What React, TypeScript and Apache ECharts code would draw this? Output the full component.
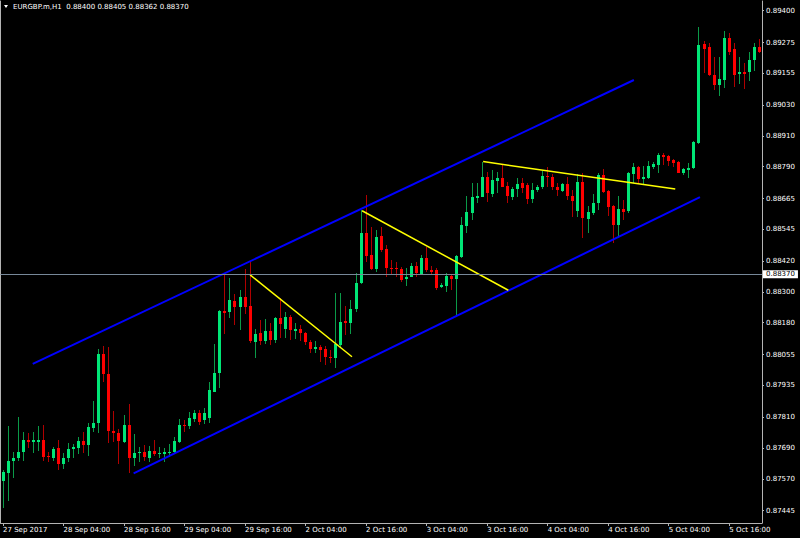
import React, { useEffect, useRef } from "react";
import * as echarts from "echarts";

const FONT = "DejaVu Sans";
const symbolTitle = "EURGBP.m,H1";
const headerQuote = ["0.88400", "0.88405", "0.88362", "0.88370"];
const bidPrice = 0.8837;

const priceTicks = [0.894, 0.89275, 0.89155, 0.8903, 0.8891, 0.8879, 0.88665, 0.88545, 0.8842, 0.883, 0.8818, 0.88055, 0.87935, 0.8781, 0.8769, 0.8757, 0.87445];
const timeTickBars = [0, 12, 24, 36, 48, 60, 72, 84, 96, 108, 120, 132, 144];
const timeTickLabels = ["27 Sep 2017", "28 Sep 04:00", "28 Sep 16:00", "29 Sep 04:00", "29 Sep 16:00", "2 Oct 04:00", "2 Oct 16:00", "3 Oct 04:00", "3 Oct 16:00", "4 Oct 04:00", "4 Oct 16:00", "5 Oct 04:00", "5 Oct 16:00"];

const opens = [
  0.87562, 0.87591, 0.8764, 0.87652, 0.87676, 0.87722, 0.87713, 0.87715, 0.8772, 0.8766,
  0.87652, 0.8769, 0.87627, 0.87651, 0.87685, 0.87691, 0.87719, 0.87701, 0.8777, 0.87789,
  0.88058, 0.8798, 0.87758, 0.87749, 0.87715, 0.8778, 0.87652, 0.87671, 0.87675, 0.87652,
  0.87679, 0.87668, 0.87668, 0.87671, 0.87675, 0.87715, 0.8778, 0.87777, 0.87802, 0.87826,
  0.878, 0.87808, 0.8791, 0.87982, 0.88227, 0.88223, 0.88266, 0.8824, 0.88279, 0.88245,
  0.88106, 0.88139, 0.8811, 0.88149, 0.88113, 0.88197, 0.88154, 0.88204, 0.88149, 0.88156,
  0.88139, 0.88106, 0.88077, 0.88086, 0.88076, 0.88047, 0.88041, 0.88093, 0.88187, 0.88178,
  0.88234, 0.88334, 0.8853, 0.88445, 0.88389, 0.88519, 0.88467, 0.88395, 0.88395, 0.88389,
  0.8835, 0.8836, 0.88402, 0.88371, 0.88432, 0.88388, 0.88386, 0.88319, 0.88324, 0.88363,
  0.8835, 0.88438, 0.88558, 0.88608, 0.88668, 0.88673, 0.88751, 0.88683, 0.88735, 0.88745,
  0.88715, 0.88673, 0.88702, 0.88725, 0.88719, 0.88663, 0.88699, 0.8871, 0.88754, 0.88751,
  0.88712, 0.88696, 0.88723, 0.88676, 0.88618, 0.88732, 0.88585, 0.8861, 0.88647, 0.88758,
  0.88695, 0.88637, 0.88562, 0.88625, 0.88617, 0.88762, 0.8879, 0.88742, 0.88747, 0.8879,
  0.88797, 0.88836, 0.88833, 0.88816, 0.8881, 0.88767, 0.88777, 0.88784, 0.88882, 0.8927,
  0.89257, 0.89149, 0.8911, 0.89129, 0.89292, 0.89249, 0.89153, 0.89162, 0.8916, 0.89207,
  0.89259,
];
const highs = [
  0.87604, 0.87776, 0.87676, 0.87813, 0.87754, 0.87748, 0.87753, 0.87776, 0.8778, 0.87676,
  0.87695, 0.8772, 0.8767, 0.87709, 0.87707, 0.87734, 0.87754, 0.87787, 0.87874, 0.88077,
  0.8809, 0.88086, 0.87836, 0.87766, 0.87819, 0.87862, 0.87745, 0.87695, 0.87701, 0.87699,
  0.87722, 0.87693, 0.87689, 0.87705, 0.87734, 0.87802, 0.878, 0.87832, 0.87839, 0.87839,
  0.87847, 0.8795, 0.88096, 0.8823, 0.88373, 0.88354, 0.88292, 0.88308, 0.8839, 0.88421,
  0.88156, 0.88191, 0.88195, 0.88178, 0.88204, 0.88276, 0.88223, 0.8821, 0.88178, 0.88171,
  0.88145, 0.88113, 0.88109, 0.88093, 0.88089, 0.88074, 0.88295, 0.88297, 0.88245, 0.88269,
  0.88373, 0.88621, 0.8868, 0.88556, 0.88543, 0.88556, 0.88484, 0.88425, 0.88419, 0.88399,
  0.88393, 0.88412, 0.88419, 0.88445, 0.88477, 0.88402, 0.88393, 0.88334, 0.88373, 0.88371,
  0.88445, 0.88594, 0.88674, 0.88728, 0.88728, 0.8881, 0.88771, 0.88777, 0.88771, 0.88797,
  0.88732, 0.88712, 0.88745, 0.88745, 0.88725, 0.88725, 0.88719, 0.88775, 0.8879, 0.88762,
  0.88725, 0.88728, 0.88751, 0.88699, 0.88762, 0.88764, 0.88637, 0.88683, 0.88764, 0.8878,
  0.88699, 0.8864, 0.88676, 0.8866, 0.88771, 0.88806, 0.88793, 0.88793, 0.88814, 0.8881,
  0.88843, 0.88843, 0.88836, 0.88819, 0.88814, 0.88784, 0.88804, 0.88891, 0.89338, 0.89283,
  0.89273, 0.89218, 0.8922, 0.89322, 0.89314, 0.89273, 0.89218, 0.89197, 0.89237, 0.89273,
  0.89288,
];
const lows = [
  0.87456, 0.87484, 0.87572, 0.8764, 0.8764, 0.87689, 0.87672, 0.8768, 0.8764, 0.87637,
  0.87641, 0.87604, 0.87607, 0.87634, 0.8765, 0.87667, 0.8767, 0.8766, 0.87752, 0.8775,
  0.8795, 0.87709, 0.87715, 0.87627, 0.87709, 0.87591, 0.8762, 0.87634, 0.87641, 0.87637,
  0.8766, 0.87652, 0.87634, 0.87656, 0.8767, 0.87709, 0.87754, 0.87763, 0.87793, 0.8778,
  0.87784, 0.87788, 0.87909, 0.87925, 0.88136, 0.88199, 0.88173, 0.88152, 0.88214, 0.88099,
  0.88041, 0.88093, 0.88097, 0.88093, 0.881, 0.88119, 0.88119, 0.88113, 0.88117, 0.88109,
  0.88093, 0.88061, 0.88061, 0.88028, 0.88015, 0.88021, 0.88002, 0.8808, 0.88132, 0.88136,
  0.88223, 0.88332, 0.88419, 0.88386, 0.8838, 0.88458, 0.8836, 0.88367, 0.8836, 0.88341,
  0.88324, 0.88358, 0.8836, 0.88367, 0.8838, 0.88367, 0.88308, 0.88315, 0.88301, 0.88308,
  0.88204, 0.88433, 0.88531, 0.88582, 0.88647, 0.88672, 0.88653, 0.88673, 0.88689, 0.8871,
  0.88647, 0.8866, 0.88673, 0.88686, 0.88644, 0.88649, 0.88692, 0.88702, 0.8871, 0.88699,
  0.88676, 0.88692, 0.8866, 0.88595, 0.88595, 0.8851, 0.8853, 0.88601, 0.88621, 0.88686,
  0.88597, 0.88493, 0.8851, 0.88582, 0.8861, 0.88725, 0.88725, 0.88719, 0.88741, 0.8878,
  0.88764, 0.88797, 0.88793, 0.8879, 0.88764, 0.88758, 0.88745, 0.8878, 0.88879, 0.89158,
  0.89145, 0.8909, 0.89067, 0.89097, 0.89227, 0.89103, 0.89114, 0.89094, 0.89127, 0.89164,
  0.89234,
];
const closes = [
  0.87598, 0.8764, 0.87652, 0.87675, 0.8772, 0.87713, 0.8772, 0.8772, 0.87656, 0.87654,
  0.87686, 0.87627, 0.87652, 0.87686, 0.87693, 0.87718, 0.87701, 0.87772, 0.87788, 0.88058,
  0.87978, 0.87757, 0.8775, 0.87718, 0.8778, 0.87652, 0.87672, 0.87675, 0.87654, 0.87679,
  0.87666, 0.87672, 0.87673, 0.87675, 0.87718, 0.8778, 0.87776, 0.87806, 0.87828, 0.87793,
  0.87827, 0.87917, 0.87985, 0.88227, 0.88219, 0.88269, 0.8824, 0.88279, 0.88243, 0.88109,
  0.88136, 0.8811, 0.88149, 0.88113, 0.88197, 0.88175, 0.88204, 0.88152, 0.88156, 0.88139,
  0.88104, 0.88076, 0.88086, 0.88074, 0.88045, 0.88041, 0.88097, 0.88184, 0.88178, 0.88234,
  0.88335, 0.8853, 0.88441, 0.88389, 0.88516, 0.88464, 0.88393, 0.88389, 0.88389, 0.88347,
  0.8836, 0.88402, 0.88373, 0.88432, 0.88386, 0.8838, 0.88315, 0.88328, 0.88363, 0.8835,
  0.88441, 0.88562, 0.88614, 0.88673, 0.88676, 0.88751, 0.88686, 0.88738, 0.88745, 0.88712,
  0.88676, 0.88702, 0.88723, 0.88706, 0.88663, 0.88699, 0.88712, 0.88754, 0.88749, 0.8871,
  0.88699, 0.88723, 0.88676, 0.88656, 0.88732, 0.88588, 0.88614, 0.88649, 0.88758, 0.88692,
  0.88634, 0.88562, 0.88624, 0.88614, 0.88767, 0.8879, 0.88741, 0.88751, 0.88793, 0.888,
  0.88836, 0.88827, 0.88812, 0.88806, 0.88767, 0.88781, 0.88786, 0.88885, 0.89266, 0.89249,
  0.89149, 0.8911, 0.89132, 0.89292, 0.8924, 0.89149, 0.89162, 0.89153, 0.89207, 0.89258,
  0.8924,
];

// trend lines: [bar index, price]
const channelUpper = [[5.9, 0.88019], [125.1, 0.89129]];
const channelLower = [[25.9, 0.87591], [138.2, 0.88671]];
const yellowLine1 = [[49.0, 0.88367], [69.2, 0.88047]];
const yellowLine2 = [[71.2, 0.88618], [100.2, 0.88307]];
const yellowLine3 = [[95.2, 0.8881], [133.3, 0.88703]];

const Y_MIN = 0.87397;
const Y_MAX = 0.89438;
const X_MIN = -0.5;
const X_MAX = opens.length - 0.5;

const AXIS = "#b4b4b4";
const BODY_UP = "#00e676";
const BODY_DOWN = "#ff0000";
const WICK_UP = "#0a9a48";
const WICK_DOWN = "#b00000";

export default function App() {
  const ref = useRef<HTMLDivElement>(null);
  useEffect(() => {
    document.body.style.margin = "0";
    document.body.style.background = "#000";
    const chart = echarts.init(ref.current!, undefined, { renderer: "svg" });
    const candleData = opens.map((o, i) => [i, o, closes[i], lows[i], highs[i]]);

    const trend = (data: number[][], color: string, width: number, extra: any = {}) => ({
      type: "line",
      data,
      xAxisIndex: 0,
      yAxisIndex: 0,
      symbol: "none",
      showSymbol: false,
      silent: true,
      z: 4,
      lineStyle: { color, width },
      ...extra,
    });

    const bidMarkLine = {
      silent: true,
      precision: 5,
      symbol: ["none", "none"],
      data: [{ yAxis: bidPrice }],
      lineStyle: { color: "#778899", width: 1, type: "solid" },
      label: {
        show: true,
        position: "end",
        distance: 1,
        formatter: () => bidPrice.toFixed(5),
        color: "#000000",
        backgroundColor: "#ffffff",
        padding: [1, 3, 0, 3],
        fontSize: 7,
        fontFamily: FONT,
      },
    };

    const option: any = {
      animation: false,
      backgroundColor: "#000000",
      title: {
        text: `${symbolTitle}\u00a0\u00a0${headerQuote.join(" ")}`,
        left: 13,
        top: 3,
        padding: 0,
        textStyle: { color: "#ffffff", fontSize: 7, fontFamily: FONT, fontWeight: "normal" },
      },
      graphic: [
        {
          type: "polygon",
          shape: { points: [[4, 5], [8, 5], [6, 8]] },
          style: { fill: "#ffffff" },
        },
      ],
      grid: { left: 0, right: 38, top: 1, bottom: 15 },
      xAxis: {
        type: "value",
        min: X_MIN,
        max: X_MAX,
        axisLine: { show: true, onZero: false, lineStyle: { color: AXIS } },
        axisTick: { show: true, length: 3, customValues: timeTickBars, lineStyle: { color: AXIS } },
        axisLabel: {
          customValues: timeTickBars,
          formatter: (v: number) => {
            const k = timeTickBars.indexOf(Math.round(v));
            return k >= 0 ? timeTickLabels[k] : "";
          },
          align: "left",
          margin: 3,
          color: "#ffffff",
          fontSize: 7,
          fontFamily: FONT,
        },
        splitLine: { show: false },
      },
      yAxis: [
        {
          type: "value",
          position: "right",
          min: Y_MIN,
          max: Y_MAX,
          axisLine: { show: true, onZero: false, lineStyle: { color: AXIS } },
          axisTick: { show: true, length: 2, customValues: priceTicks, lineStyle: { color: AXIS } },
          axisLabel: {
            customValues: priceTicks,
            formatter: (v: number) => v.toFixed(5),
            margin: 4,
            color: "#ffffff",
            fontSize: 7,
            fontFamily: FONT,
          },
          splitLine: { show: false },
        },
        {
          type: "value",
          position: "left",
          min: Y_MIN,
          max: Y_MAX,
          axisLine: { show: true, onZero: false, lineStyle: { color: AXIS } },
          axisTick: { show: false },
          axisLabel: { show: false },
          splitLine: { show: false },
        },
      ],
      series: [
        {
          type: "custom",
          xAxisIndex: 0,
          yAxisIndex: 0,
          silent: true,
          z: 2,
          encode: { x: 0, y: [1, 2, 3, 4] },
          data: candleData,
          renderItem: (params: any, api: any) => {
            const x = api.value(0);
            const o = api.value(1);
            const c = api.value(2);
            const l = api.value(3);
            const h = api.value(4);
            const pO = api.coord([x, o]);
            const pC = api.coord([x, c]);
            const pL = api.coord([x, l]);
            const pH = api.coord([x, h]);
            const up = c >= o;
            const cx = Math.floor(pO[0]) + 0.5;
            const top = Math.round(Math.min(pO[1], pC[1]));
            const bot = Math.round(Math.max(pO[1], pC[1]));
            return {
              type: "group",
              children: [
                {
                  type: "line",
                  shape: { x1: cx, y1: Math.round(pH[1]), x2: cx, y2: Math.round(pL[1]) },
                  style: { stroke: up ? WICK_UP : WICK_DOWN, lineWidth: 1 },
                },
                {
                  type: "rect",
                  shape: { x: cx - 1.5, y: top, width: 3, height: Math.max(1, bot - top) },
                  style: { fill: up ? BODY_UP : BODY_DOWN },
                },
              ],
            };
          },
        },
        trend(channelUpper, "#0000ff", 2, { markLine: bidMarkLine }),
        trend(channelLower, "#0000ff", 2),
        trend(yellowLine1, "#ffff00", 1.5),
        trend(yellowLine2, "#ffff00", 1.5),
        trend(yellowLine3, "#ffff00", 1.5),
      ],
    };
    chart.setOption(option);
    return () => chart.dispose();
  }, []);
  return (
    <div
      ref={ref}
      style={{ position: "fixed", left: 0, top: 0, width: 800, height: 538, background: "#000" }}
    />
  );
}
